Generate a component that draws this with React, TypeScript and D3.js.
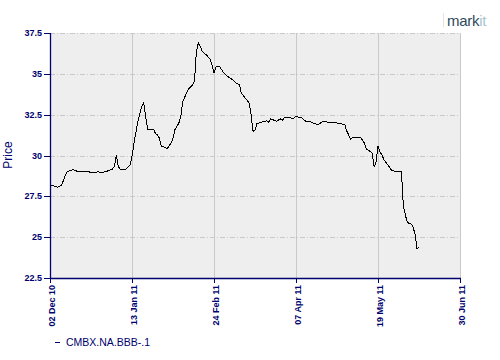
import React from "react";
import * as d3 from "d3";

const dates: string[] = [
  "2010-12-02","2010-12-05","2010-12-06","2010-12-08","2010-12-10","2010-12-11","2010-12-14","2010-12-16",
  "2010-12-22","2010-12-23","2010-12-27","2010-12-28","2010-12-31","2011-01-03","2011-01-04","2011-01-05",
  "2011-01-06","2011-01-07","2011-01-10","2011-01-12","2011-01-13","2011-01-14","2011-01-16","2011-01-18",
  "2011-01-19","2011-01-20","2011-01-21","2011-01-24","2011-01-25","2011-01-26","2011-01-27","2011-01-28",
  "2011-01-30","2011-01-31","2011-02-02","2011-02-03","2011-02-04","2011-02-06","2011-02-07","2011-02-08",
  "2011-02-10","2011-02-11","2011-02-13","2011-02-14","2011-02-15","2011-02-16","2011-02-17","2011-02-18",
  "2011-02-20","2011-02-22","2011-02-23","2011-02-24","2011-02-25","2011-02-27","2011-03-01","2011-03-03",
  "2011-03-06","2011-03-07","2011-03-09","2011-03-10","2011-03-12","2011-03-14","2011-03-15","2011-03-16",
  "2011-03-17","2011-03-18","2011-03-20","2011-03-23","2011-03-24","2011-03-25","2011-03-28","2011-03-30",
  "2011-03-31","2011-04-01","2011-04-04","2011-04-05","2011-04-07","2011-04-10","2011-04-11","2011-04-12",
  "2011-04-14","2011-04-18","2011-04-21","2011-04-24","2011-04-26","2011-04-28","2011-04-30","2011-05-02",
  "2011-05-03","2011-05-05","2011-05-06","2011-05-10","2011-05-12","2011-05-13","2011-05-15","2011-05-16",
  "2011-05-17","2011-05-18","2011-05-19","2011-05-20","2011-05-21","2011-05-22","2011-05-24","2011-05-26",
  "2011-05-28","2011-05-31","2011-06-01","2011-06-02","2011-06-03","2011-06-05","2011-06-06","2011-06-07",
  "2011-06-08","2011-06-09",
];

const prices: number[] = [
  28.21, 28.10, 28.05, 28.20, 28.82, 29.03, 29.13, 29.03,
  29.00, 28.95, 29.00, 28.93, 29.03, 29.17, 29.33, 30.03,
  29.30, 29.17, 29.17, 29.43, 29.94, 30.76, 32.09, 33.00,
  33.25, 32.39, 31.62, 31.62, 31.35, 31.27, 31.07, 30.56,
  30.50, 30.42, 30.76, 31.05, 31.58, 31.99, 32.39, 33.31,
  33.83, 34.07, 34.33, 34.54, 36.40, 36.89, 36.68, 36.37,
  36.17, 35.91, 35.56, 35.05, 35.42, 35.42, 35.05, 34.84,
  34.60, 34.47, 34.33, 33.83, 33.52, 33.21, 32.50, 31.48,
  31.55, 31.95, 32.03, 32.13, 32.05, 32.25, 32.09, 32.25,
  32.15, 32.30, 32.36, 32.23, 32.39, 32.30, 32.19, 32.09,
  32.09, 31.88, 32.09, 32.03, 32.05, 31.99, 31.95, 31.88,
  31.50, 31.00, 31.13, 31.13, 30.76, 30.40, 30.25, 30.15,
  29.30, 29.60, 30.60, 30.20, 30.05, 29.74, 29.43, 29.09,
  29.03, 29.00, 26.88, 26.37, 25.90, 25.80, 25.62, 25.15,
  24.27, 24.40,
];

const xTickDates: string[] = ["2010-12-02", "2011-01-13", "2011-02-24", "2011-04-07", "2011-05-19", "2011-06-30"];
const yTicks: number[] = [22.5, 25, 27.5, 30, 32.5, 35, 37.5];
const yTickLabels: string[] = ["22.5", "25", "27.5", "30", "32.5", "35", "37.5"];
const seriesName = "CMBX.NA.BBB-.1";
const axisTitle = "Price";

const W = 500, H = 360;
const L = 50, R = 460, T = 33, B = 278;
const NAVY = "#00006e";
const GRID = "#c9c9c9";
const FONT = "'Liberation Sans', Arial, sans-serif";

export default function App() {
  const parse = d3.utcParse("%Y-%m-%d");
  const fmt = d3.utcFormat("%d %b %y");
  const xTicks = xTickDates.map((s) => parse(s) as Date);
  const x = d3.scaleUtc().domain([xTicks[0], xTicks[xTicks.length - 1]]).range([L, R]);
  const y = d3.scaleLinear().domain([22.5, 37.5]).range([B, T]);
  const pts = dates.map((d, i) => ({ d: parse(d) as Date, v: prices[i] }));
  const line = d3.line<{ d: Date; v: number }>().x((p) => x(p.d)).y((p) => y(p.v));

  return (
    <svg width={W} height={H} style={{ position: "absolute", left: 0, top: 0, background: "#fff" }} fontFamily={FONT}>
      <rect x={L} y={T} width={R - L} height={B - T} fill="#eeeeee" />
      {/* vertical grid */}
      {xTicks.slice(1).map((t, i) => (
        <line key={"vg" + i} x1={Math.round(x(t)) + 0.5} x2={Math.round(x(t)) + 0.5} y1={T} y2={B} stroke={GRID} strokeWidth={1} />
      ))}
      {/* horizontal grid */}
      {yTicks.slice(1).map((t, i) => (
        <line key={"hg" + i} x1={L} x2={R} y1={Math.round(y(t)) + 0.5} y2={Math.round(y(t)) + 0.5} stroke={GRID} strokeWidth={1} strokeDasharray="5,2,1,2" />
      ))}
      {/* series */}
      <path d={line(pts) || ""} fill="none" stroke="#000" strokeWidth={1} shapeRendering="crispEdges" />
      {/* y axis */}
      <line x1={L + 0.5} x2={L + 0.5} y1={T} y2={B + 1} stroke={NAVY} strokeWidth={1.3} />
      {yTicks.map((t, i) => (
        <g key={"yt" + i}>
          <line x1={L - 6} x2={L} y1={Math.round(y(t)) + 0.5} y2={Math.round(y(t)) + 0.5} stroke={NAVY} strokeWidth={1} />
          <text x={L - 8} y={y(t) + 3} textAnchor="end" fontSize={9} fill={NAVY} fontWeight="bold">
            {yTickLabels[i]}
          </text>
        </g>
      ))}
      {/* x axis */}
      <line x1={L} x2={R + 1} y1={B + 0.5} y2={B + 0.5} stroke={NAVY} strokeWidth={1.3} />
      {xTicks.map((t, i) => (
        <g key={"xt" + i}>
          <line x1={Math.round(x(t)) + 0.5} x2={Math.round(x(t)) + 0.5} y1={B} y2={B + 5} stroke={NAVY} strokeWidth={1} />
          <text
            transform={`translate(${x(t)},${B + 7}) rotate(-90)`}
            dy="0.5em"
            textAnchor="end"
            fontSize={9}
            fill={NAVY}
            fontWeight="bold"
          >
            {fmt(t)}
          </text>
        </g>
      ))}
      {/* axis title */}
      <text transform={`translate(12,155) rotate(-90)`} textAnchor="middle" fontSize={12} fill={NAVY}>
        {axisTitle}
      </text>
      {/* legend */}
      <line x1={55} x2={60} y1={342.5} y2={342.5} stroke={NAVY} strokeWidth={1} />
      <text x={66} y={346} fontSize={10.5} fill={NAVY}>
        {seriesName}
      </text>
      {/* logo */}
      <line x1={443.5} x2={443.5} y1={13} y2={27} stroke="#e4e4e4" strokeWidth={1} />
      <text x={447} y={25.5} fontSize={15} fill="#2e4a5b" letterSpacing={-0.3}>
        mark<tspan fill="#a9c4cf">it</tspan>
      </text>
    </svg>
  );
}
